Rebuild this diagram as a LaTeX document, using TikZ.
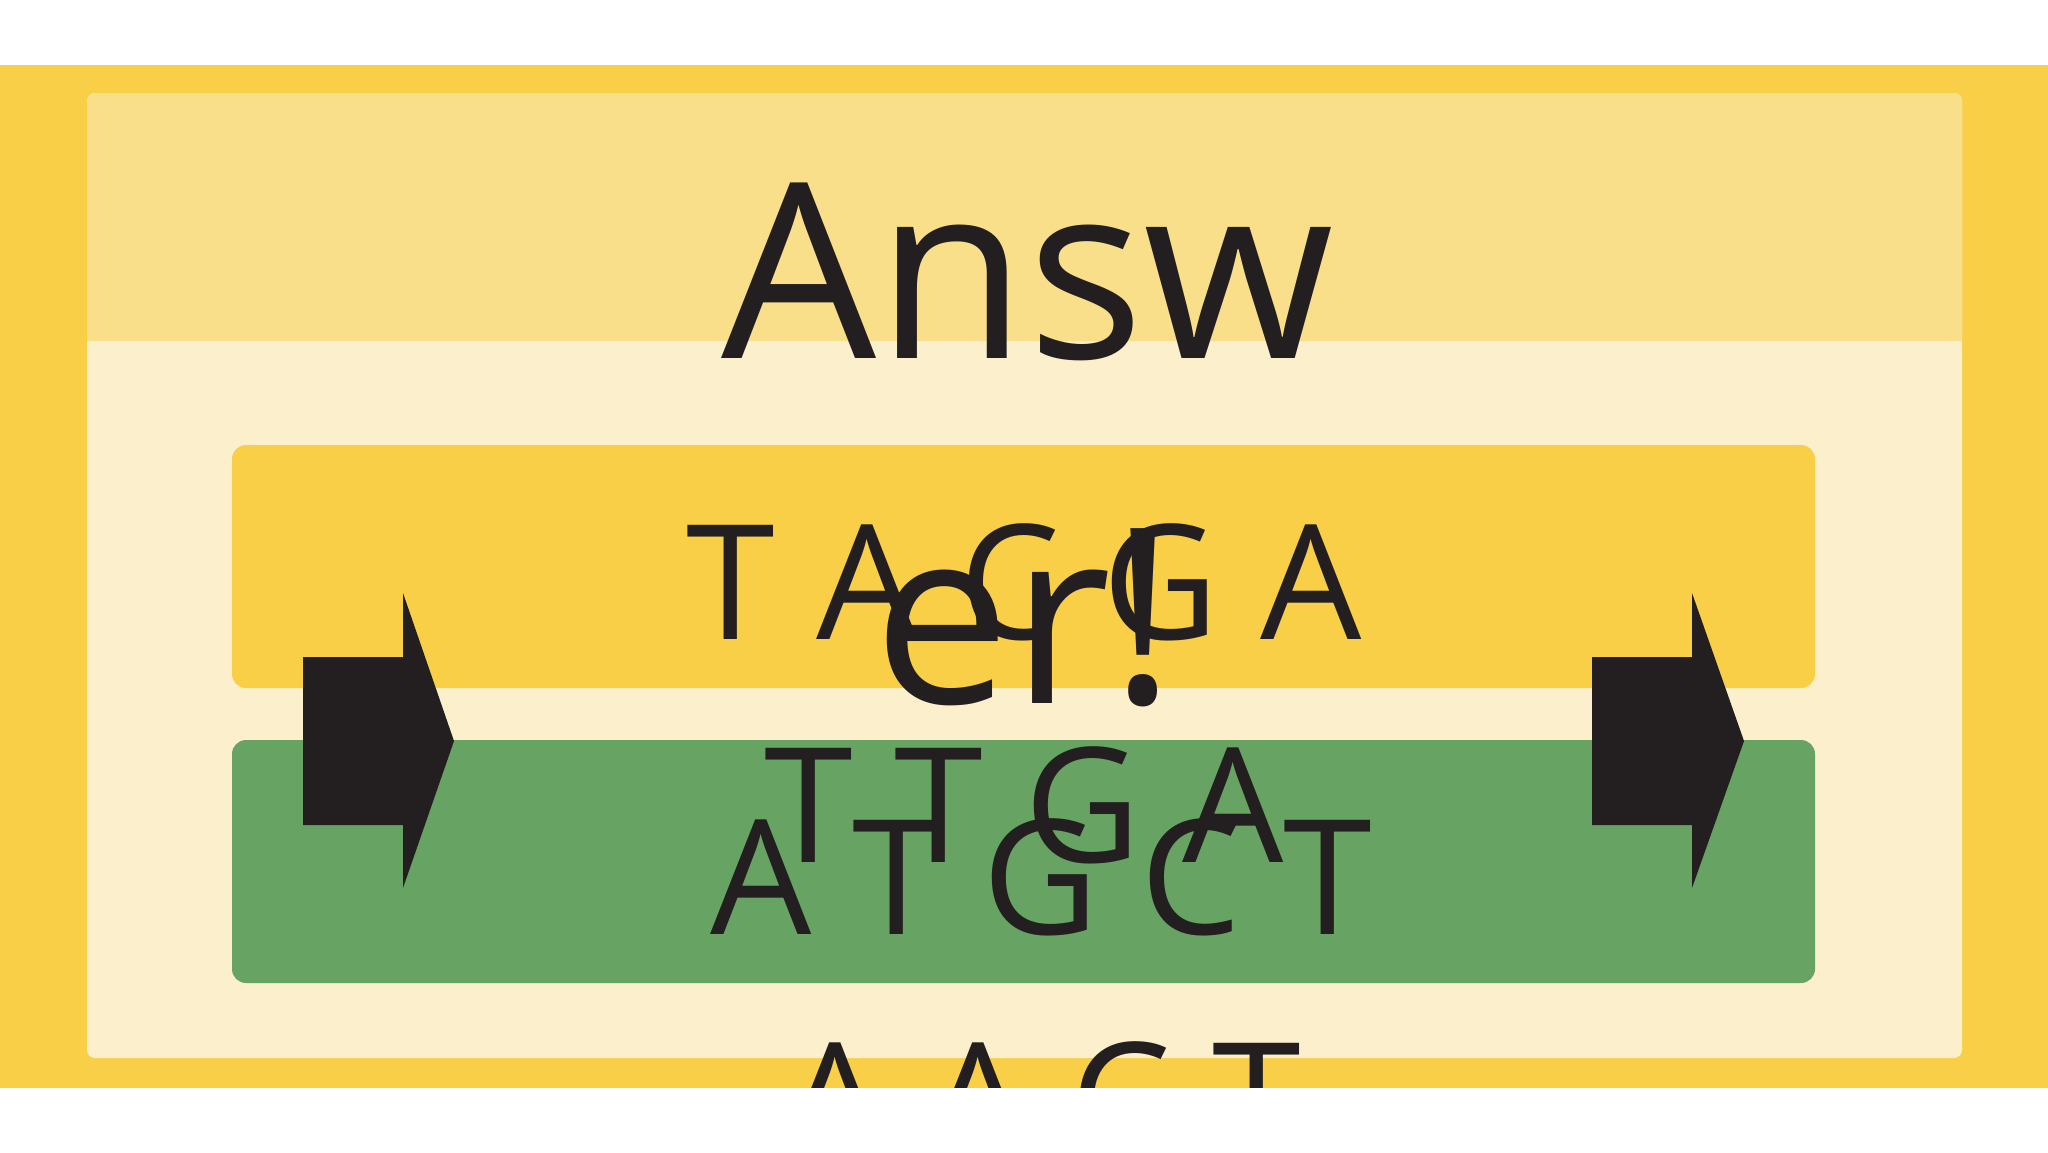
\documentclass[tikz,border=0pt]{standalone}
\usepackage{fontspec}
\setmainfont{Open Sans}
\definecolor{band}{HTML}{F8CF46}
\definecolor{head}{HTML}{F9DF8A}
\definecolor{panelbody}{HTML}{FCEFCB}
\definecolor{grn}{HTML}{67A463}
\definecolor{ink}{HTML}{231F20}
\begin{document}
\begin{tikzpicture}[x=0.5pt,y=-0.5pt,
  bigtext/.style={font=\fontsize{122.5}{147}\selectfont, text=ink, anchor=base, inner sep=0pt},
  letters/.style={font=\fontsize{80}{96}\selectfont, text=ink, anchor=base, inner sep=0pt},
  seqbox/.style={rectangle, rounded corners=7pt, minimum width=791.5pt, minimum height=121.5pt, inner sep=0pt, draw=none},
  arrowshape/.style={fill=ink}]
\useasboundingbox (0,0) rectangle (2048,1152);
\fill[white] (0,0) rectangle (2048,1152);
\fill[band] (0,65) rectangle (2048,1088);
\fill[panelbody, rounded corners=4pt] (87,93) rectangle (1962,1058);
\fill[head] (87,341) [rounded corners=4pt] -- (87,93) -- (1962,93) [sharp corners] -- (1962,341) -- cycle;
\node[seqbox, fill=band] (ybox) at (1023.5,566.5) {};
\node[seqbox, fill=grn] (gbox) at (1023.5,861.5) {};
\fill[arrowshape] (303,657) -- (403,657) -- (403,593) -- (454,741) -- (403,888) -- (403,825) -- (303,825) -- cycle;
\fill[arrowshape] (1592,657) -- (1692,657) -- (1692,593) -- (1744,741) -- (1692,888) -- (1692,825) -- (1592,825) -- cycle;
\node[bigtext] (t1) at (1028,358) {Answ};
\node[bigtext] (t2) at (1025,703) {er!};
\node[letters] (r1) at (1024,639) {T A C G A};
\node[letters] (r2) at (1024,862) {T T G A};
\node[letters] (r3) at (1041,934) {A T G C T};
\node[letters] (r4) at (1043,1157) {A A C T};
\fill[white] (-20,1088) rectangle (2068,1300);
\end{tikzpicture}
\end{document}
